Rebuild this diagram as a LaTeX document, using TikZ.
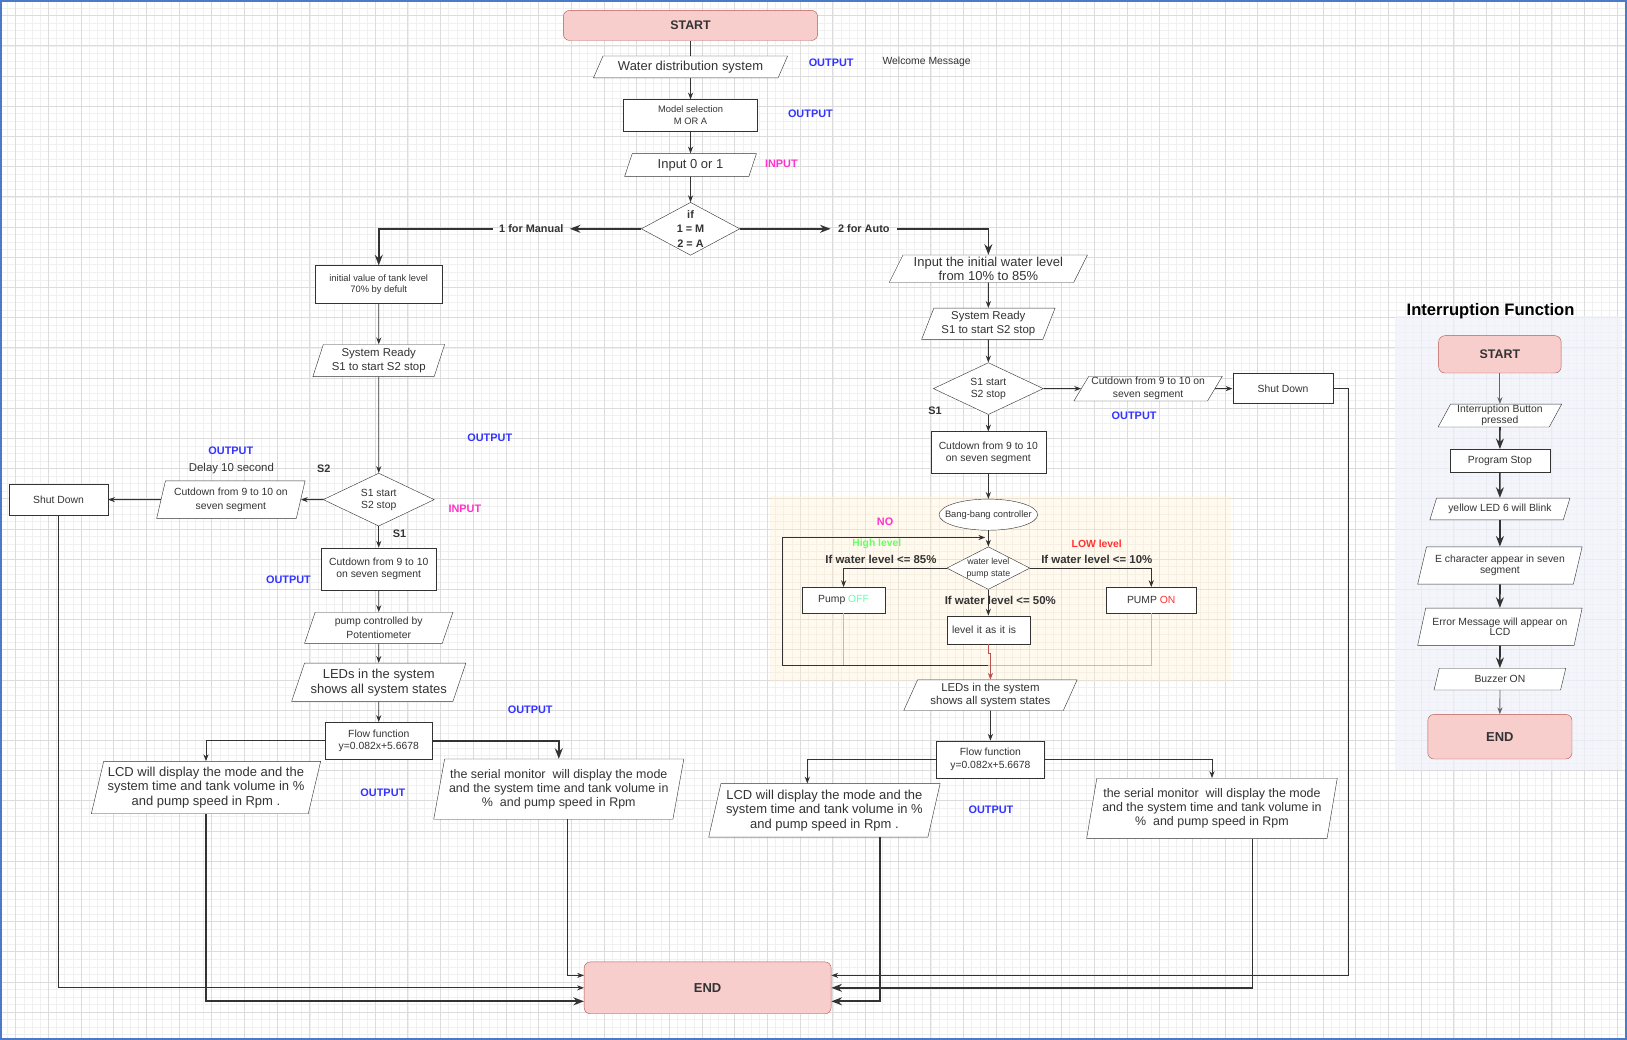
\documentclass[tikz,border=0pt]{standalone}
\usepackage{fontspec}
\setmainfont{Liberation Sans}
\usetikzlibrary{shapes.geometric,arrows.meta}
\definecolor{termfill}{HTML}{F8CECC}
\definecolor{termdraw}{HTML}{B85450}
\definecolor{outc}{HTML}{3333FF}
\definecolor{inpc}{HTML}{FF33CC}
\definecolor{linec}{HTML}{333333}
\definecolor{gridmaj}{HTML}{DCDCDC}
\definecolor{gridmin}{HTML}{F0F0F0}
\definecolor{framec}{HTML}{4A7BC8}
\definecolor{highc}{HTML}{66FF66}
\definecolor{offc}{HTML}{66FFB3}
\definecolor{lowc}{HTML}{FF3333}
\definecolor{offl}{HTML}{A8D08D}
\definecolor{onl}{HTML}{C9B3D6}
\definecolor{lvll}{HTML}{B85450}
\definecolor{bangc}{HTML}{FFF2CC}
\definecolor{intc}{HTML}{EEF2FA}
\begin{document}
\begin{tikzpicture}[x=1pt, y=-1pt, >={Stealth},
    every node/.style={font=\fontsize{10}{11.6}\selectfont, text=linec},
    box/.style={rectangle, draw=linec, fill=white, inner sep=1pt, align=center},
    io/.style={trapezium, trapezium left angle=#1, trapezium right angle={180-#1},
      trapezium stretches body, draw=linec, fill=white, inner xsep=0pt, inner ysep=1pt, align=center},
    dia/.style={diamond, draw=linec, fill=white, inner sep=0pt, align=center},
    term/.style={rectangle, rounded corners=6pt, draw=termdraw, fill=termfill,
      font=\bfseries\fontsize{12}{14}\selectfont},
    outlbl/.style={text=outc, font=\bfseries\fontsize{10.5}{12}\selectfont},
    inplbl/.style={text=inpc, font=\bfseries\fontsize{10.5}{12}\selectfont},
    lbl/.style={font=\bfseries\fontsize{10.5}{12}\selectfont},
    ln/.style={draw=linec, line width=0.8pt},
    bln/.style={draw=linec, line width=1.6pt}]
    \useasboundingbox (0,0) rectangle (1568,1002);
    \fill[white] (0,0) rectangle (1568,1002);
    \foreach \i in {0,...,199}
        \draw[gridmin, line width=0.6pt] ({-0.65+7.875*\i},0) -- ++(0,1002);
    \foreach \i in {0,...,137}
        \draw[gridmin, line width=0.6pt] (0,{0.55+7.275*\i}) -- ++(1568,0);
    \foreach \i in {0,...,49}
        \draw[gridmaj, line width=0.8pt] ({15.1+31.5*\i},0) -- ++(0,1002);
    \foreach \i in {0,...,33}
        \draw[gridmaj, line width=0.8pt] (0,{15.1+29.1*\i}) -- ++(1568,0);
    \fill[bangc, opacity=0.35] (742,478) rectangle (1186,657);
    \fill[intc, opacity=0.7] (1344,305) rectangle (1563,742);

    \node[term, minimum width=245pt, minimum height=29pt] (n1) at (665.5,24.5) {START};
    \node[io=56.3, minimum width=187pt, minimum height=21pt, font=\fontsize{12.5}{14}\selectfont] (n2) at (665.5,64.5) {Water distribution system};
    \node[box, minimum width=129pt, minimum height=30pt, font=\fontsize{9}{11}\selectfont] (n3) at (665.5,111) {Model selection\\M OR A};
    \node[io=61.4, minimum width=127pt, minimum height=22pt, font=\fontsize{12.5}{14}\selectfont] (n4) at (665.5,159) {Input 0 or 1};
    \node[dia, minimum width=95pt, minimum height=51pt, aspect=1.86,
      label={[align=center, font=\bfseries\fontsize{10.5}{14.2}\selectfont]center:{if\\1 = M\\2 = A}}] (n5) at (665.5,220.5) {};
    \node[lbl, inner xsep=6pt] (lm) at (512,220.5) {1 for Manual};
    \node[lbl, inner xsep=7pt] (la) at (832.5,220.5) {2 for Auto};
    \node[outlbl] (o1) at (801,60) {OUTPUT};
    \node (w1) at (893,60) {Welcome Message};
    \node[outlbl] (o2) at (781,110) {OUTPUT};
    \node[inplbl] (p1) at (753,158) {INPUT};

    \node[box, minimum width=123pt, minimum height=36pt, font=\fontsize{9}{10.6}\selectfont] (m1) at (365,274) {initial value of tank level\\70\% by defult};
    \node[io=68.8, minimum width=127pt, minimum height=31pt, font=\fontsize{11}{13.8}\selectfont] (m2) at (365,347.5) {System Ready\\S1 to start S2 stop};
    \node[dia, minimum width=107pt, minimum height=51pt, aspect=2.1] (m3) at (365,481.5) {S1 start\\S2 stop};
    \node[io=71.6, minimum width=143pt, minimum height=36pt, font=\fontsize{10}{14}\selectfont] (m4) at (222.5,481.5) {Cutdown from 9 to 10 on\\seven segment};
    \node[box, minimum width=95pt, minimum height=30pt] (m5) at (56.5,481.5) {Shut Down};
    \node[box, minimum width=111pt, minimum height=41pt] (m6) at (365,548.5) {Cutdown from 9 to 10\\on seven segment};
    \node[io=65.8, minimum width=143pt, minimum height=30pt, font=\fontsize{10}{13.5}\selectfont] (m7) at (365,605) {pump controlled by\\Potentiometer};
    \node[io=66, minimum width=168pt, minimum height=37pt, font=\fontsize{12.5}{14.5}\selectfont] (m8) at (365,657.5) {LEDs in the system\\shows all system states};
    \node[box, minimum width=104pt, minimum height=36pt] (m9) at (365,714) {Flow function\\y=0.082x+5.6678};
    \node[io=74, minimum width=221pt, minimum height=50.5pt, font=\fontsize{12.5}{14}\selectfont] (m10) at (198.5,759) {LCD will display the mode and the\\system time and tank volume in \%\\and pump speed in Rpm .};
    \node[io=75.5, minimum width=241pt, minimum height=58pt, font=\fontsize{12}{13.7}\selectfont] (m11) at (538.5,760.5) {the serial monitor\ \ will display the mode\\and the system time and tank volume in\\\%\ \ and pump speed in Rpm};
    \node[outlbl] (o3) at (222.5,434) {OUTPUT};
    \node[font=\fontsize{11}{13}\selectfont] (d1) at (223,452) {Delay 10 second};
    \node[lbl] (s2) at (312,452) {S2};
    \node[lbl] (s1) at (385,514) {S1};
    \node[outlbl] (o4) at (472,422) {OUTPUT};
    \node[inplbl] (p2) at (448,490) {INPUT};
    \node[outlbl] (o5) at (278,559) {OUTPUT};
    \node[outlbl] (o6) at (511,684) {OUTPUT};
    \node[outlbl] (o7) at (369,764) {OUTPUT};

    \node[io=61.3, minimum width=191pt, minimum height=26.5pt, font=\fontsize{12.5}{13}\selectfont] (a1) at (952.5,259) {Input the initial water level\\from 10\% to 85\%};
    \node[io=65.8, minimum width=128.5pt, minimum height=30pt, font=\fontsize{11}{13.8}\selectfont] (a2) at (952.5,312) {System Ready\\S1 to start S2 stop};
    \node[dia, minimum width=106pt, minimum height=50pt, aspect=2.1] (a3) at (952.5,374.5) {S1 start\\S2 stop};
    \node[io=59, minimum width=143pt, minimum height=23.5pt, font=\fontsize{10}{12.5}\selectfont] (a4) at (1106.5,374.5) {Cutdown from 9 to 10 on\\seven segment};
    \node[box, minimum width=97pt, minimum height=29pt] (a5) at (1236.5,374.5) {Shut Down};
    \node[box, minimum width=111pt, minimum height=40pt] (a6) at (952.5,436) {Cutdown from 9 to 10\\on seven segment};
    \node[ellipse, draw=linec, fill=white, inner sep=0pt, minimum width=95pt, minimum height=30pt,
      label={[font=\fontsize{9}{11}\selectfont]center:Bang-bang controller}] (a7) at (952.5,496) {};
    \node[dia, minimum width=80pt, minimum height=41pt, aspect=1.95, font=\fontsize{8.5}{11.6}\selectfont] (a8) at (952.5,547.5) {water level\\pump state};
    \node[box, minimum width=80pt, minimum height=25pt] (a9) at (813,578.5) {Pump \textcolor{offc}{OFF}};
    \node[box, minimum width=87pt, minimum height=25pt] (a10) at (1109.5,578.5) {PUMP \textcolor{lowc}{ON}};
    \node[box, minimum height=27pt, text width=70pt, align=left, inner xsep=5pt] (a11) at (952.5,607) {level it as it is};
    \node[io=62.3, minimum width=167pt, minimum height=29.5pt, font=\fontsize{11}{13}\selectfont] (a12) at (954.5,670) {LEDs in the system\\shows all system states};
    \node[box, minimum width=104pt, minimum height=36pt, font=\fontsize{10}{12.2}\selectfont] (a13) at (954.5,732) {Flow function\\y=0.082x+5.6678};
    \node[io=74.3, minimum width=223pt, minimum height=51.5pt, font=\fontsize{12.5}{14.1}\selectfont] (a14) at (794.5,781) {LCD will display the mode and the\\system time and tank volume in \%\\and pump speed in Rpm .};
    \node[io=76.4, minimum width=241.5pt, minimum height=58pt, font=\fontsize{12}{13.7}\selectfont] (a15) at (1168,779) {the serial monitor\ \ will display the mode\\and the system time and tank volume in\\\%\ \ and pump speed in Rpm};
    \node[lbl] (s3) at (901,396) {S1};
    \node[outlbl] (o8) at (1093,401) {OUTPUT};
    \node[inplbl] (p3) at (853,503) {NO};
    \node[lbl, text=highc, font=\bfseries\fontsize{10}{12}\selectfont] (h1) at (845,524) {High level};
    \node[lbl, font=\bfseries\fontsize{11}{13}\selectfont] (h2) at (849,539) {If water level <= 85\%};
    \node[lbl, text=lowc, font=\bfseries\fontsize{10}{12}\selectfont] (h3) at (1057,524) {LOW level};
    \node[lbl, font=\bfseries\fontsize{11}{13}\selectfont] (h4) at (1057,539) {If water level <= 10\%};
    \node[lbl, font=\bfseries\fontsize{11}{13}\selectfont] (h5) at (964,579) {If water level <= 50\%};
    \node[outlbl] (o9) at (955,780) {OUTPUT};

    \node[term, minimum width=238pt, minimum height=50pt, font=\bfseries\fontsize{12.5}{14}\selectfont] (e1) at (682,952) {END};

    \node[font=\bfseries\fontsize{16}{18}\selectfont, text=black] (t0) at (1436.5,299.5) {Interruption Function};
    \node[term, minimum width=118pt, minimum height=36pt] (i1) at (1445.5,341.5) {START};
    \node[io=61.4, minimum width=119pt, minimum height=22pt, font=\fontsize{10}{10.6}\selectfont] (i2) at (1445.5,400.5) {Interruption Button\\pressed};
    \node[box, minimum width=96pt, minimum height=22pt] (i3) at (1445.5,444) {Program Stop};
    \node[io=60.3, minimum width=135pt, minimum height=21pt] (i4) at (1445.5,490.5) {yellow LED 6 will Blink};
    \node[io=68.7, minimum width=158.5pt, minimum height=36pt, font=\fontsize{10}{10.5}\selectfont] (i5) at (1445.5,545) {E character appear in seven\\segment};
    \node[io=68.7, minimum width=158.5pt, minimum height=36pt, font=\fontsize{10}{10.5}\selectfont] (i6) at (1445.5,604) {Error Message will appear on\\LCD};
    \node[io=61, minimum width=127pt, minimum height=21pt] (i7) at (1445.5,654.5) {Buzzer ON};
    \node[term, minimum width=139pt, minimum height=43pt, font=\bfseries\fontsize{12.5}{14}\selectfont] (i8) at (1445.5,710) {END};

    \draw[ln] (n1) -- (n2);
    \draw[->, ln] (n2) -- (n3);
    \draw[->, ln] (n3) -- (n4);
    \draw[->, ln] (n4) -- (n5);
    \draw[->, bln] (n5) -- (lm);
    \draw[->, bln] (lm) -| (m1);
    \draw[->, bln] (n5) -- (la);
    \draw[->, bln] (la) -| (a1);

    \draw[->, ln] (m1) -- (m2);
    \draw[->, ln] (m2) -- (m3);
    \draw[->, ln] (m3) -- (m4);
    \draw[->, ln] (m4) -- (m5);
    \draw[->, ln] (m3) -- (m6);
    \draw[->, ln] (m6) -- (m7);
    \draw[->, ln] (m7) -- (m8);
    \draw[->, ln] (m8) -- (m9);
    \draw[->, ln] (m9.west) -| (m10.north);
    \draw[->, bln] (m9.east) -| (m11.north);
    \draw[->, ln] (m5.south) |- (e1.west);
    \draw[->, bln] (m10.south) |- ([yshift=-13pt]e1.west);
    \draw[->, ln] ([xshift=8.5pt]m11.south) |- ([yshift=12pt]e1.west);

    \draw[->, ln] (a1) -- (a2);
    \draw[->, ln] (a2) -- (a3);
    \draw[->, ln] (a3) -- (a4);
    \draw[->, ln] (a4) -- (a5);
    \draw[->, ln] (a3) -- (a6);
    \draw[->, ln] (a5.east) -- ++(14,0) |- ([yshift=12pt]e1.east);
    \draw[->, ln] (a6) -- (a7);
    \draw[->, ln] (a7) -- (a8);
    \draw[->, ln] (a8.west) -| (a9.north);
    \draw[->, ln] (a8.east) -| (a10.north);
    \draw[->, ln] (a8) -- (a11);
    \coordinate (j1) at (952.5,641);
    \coordinate (j2) at (949.5,518);
    \draw[offl, line width=0.8pt] (a9.south) -- (a9.south |- j1);
    \draw[onl, line width=0.8pt] (a10.south) |- (j1);
    \draw[->, ln] (j1) -- ++(-198.5,0) |- (j2);
    \draw[->, draw=lvll, line width=0.8pt] (a11.south) -- ++(0,9) -| (a12.north);
    \draw[->, ln] (a12) -- (a13);
    \draw[->, ln] (a13.west) -| ([xshift=-16.5pt]a14.north);
    \draw[->, ln] (a13.east) -| (a15.north);
    \draw[->, bln] ([xshift=53.5pt]a14.south) |- ([yshift=-13pt]e1.east);
    \draw[->, bln] ([xshift=39pt]a15.south) |- (e1.east);

    \draw[->, draw=black!60, line width=0.8pt] (i1) -- (i2);
    \draw[->, bln] (i2) -- (i3);
    \draw[->, bln] (i3) -- (i4);
    \draw[->, bln] (i4) -- (i5);
    \draw[->, bln] (i5) -- (i6);
    \draw[->, bln] (i6) -- (i7);
    \draw[->, draw=black!60, line width=0.8pt] (i7) -- (i8);

    \draw[framec, line width=2pt] (1,1) rectangle (1567,1001);
\end{tikzpicture}
\end{document}
